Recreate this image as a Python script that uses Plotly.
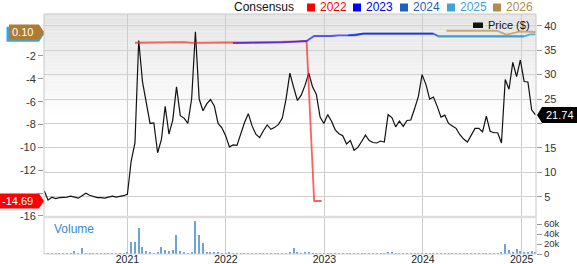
import pandas as pd
import plotly.graph_objects as go

# ---------------- data ----------------
start_date = "2020-02-28"   # biweekly sampling of price & volume
price = [6.2, 4.3, 4.9, 4.6, 4.8, 4.8, 4.9, 5.1, 4.9, 4.7,
         5.2, 5.7, 5.3, 5.0, 4.8, 4.8, 4.7, 4.9, 5.1, 4.9,
         5.0, 5.2, 5.5, 12.3, 16.0, 37.0, 28.5, 24.1, 20.0, 20.1,
         14.0, 16.7, 23.5, 17.8, 20.7, 27.5, 21.6, 21.1, 20.0, 25.0,
         38.8, 25.0, 22.6, 24.0, 24.9, 23.6, 20.0, 19.1, 17.5, 15.2,
         15.6, 15.5, 18.0, 20.2, 22.0, 19.5, 17.8, 17.1, 18.5, 19.7,
         18.8, 19.2, 19.8, 21.1, 25.1, 30.3, 27.4, 24.7, 25.8, 27.8,
         30.3, 27.5, 26.0, 21.3, 20.0, 21.8, 20.5, 18.7, 17.9, 17.5,
         15.8, 16.5, 14.5, 15.1, 16.3, 17.6, 16.5, 16.1, 16.0, 16.4,
         16.2, 21.8, 21.2, 19.3, 20.5, 19.4, 20.6, 20.7, 23.0, 25.5,
         30.0, 28.0, 25.0, 25.4, 23.5, 21.3, 21.7, 20.0, 19.5, 19.0,
         17.7, 16.8, 16.2, 17.5, 19.0, 19.0, 18.3, 21.5, 18.4, 18.1,
         18.1, 16.0, 29.0, 27.0, 32.5, 29.6, 33.0, 28.6, 28.5, 22.8,
         21.74]
volume_k = [1, 1, 1, 1, 1, 1, 1, 2, 6, 1,
            12, 2, 1, 1, 1, 1, 1, 1, 1, 1,
            1, 1, 3, 24, 24, 52, 14, 6, 4, 2,
            3, 14, 8, 6, 9, 39, 6, 3, 2, 3,
            67, 38, 22, 5, 4, 3, 3, 2, 2, 3,
            2, 2, 2, 1.5, 1.5, 1.5, 2, 1.5, 1.5, 1.5,
            1.5, 1.5, 1.5, 1.5, 2, 3, 13, 3, 2, 3,
            3, 2, 1.5, 1.5, 1.5, 1.5, 1.5, 1.5, 1.5, 1.5,
            1.5, 1.5, 1.5, 1.5, 1.5, 1.5, 1.5, 1.5, 1.5, 1.5,
            1.5, 5, 3, 1.5, 1.5, 1.5, 1.5, 1.5, 1.5, 2,
            1.5, 1.5, 1.5, 1.5, 1.5, 1.5, 1.5, 1.5, 1.5, 1.5,
            2, 2, 2, 1.5, 1.5, 1.5, 1.5, 1.5, 1.5, 1.5,
            2, 3, 21, 8, 4, 11, 6, 4, 3, 6,
            5]

eps_2022_dates = ["2021-01-29", "2021-03-31", "2021-05-31", "2021-07-30", "2021-08-31",
                  "2021-10-29", "2021-12-31", "2022-03-31", "2022-06-30", "2022-09-30",
                  "2022-10-27", "2022-11-24", "2022-12-22"]
eps_2022 = [-0.84, -0.84, -0.80, -0.78, -0.86, -0.82, -0.82, -0.82, -0.80, -0.72,
            -0.69, -14.69, -14.69]
eps_2023_dates = ["2022-01-27", "2022-04-28", "2022-07-28", "2022-10-27", "2022-11-24",
                  "2023-01-26", "2023-02-23", "2023-04-27", "2023-05-25", "2024-02-08"]
eps_2023 = [-0.87, -0.86, -0.80, -0.69, -0.25, -0.25, -0.19, -0.19, -0.05, -0.05]
eps_2024_dates = ["2023-03-30", "2023-05-25", "2024-02-08", "2024-02-29", "2025-01-09"]
eps_2024 = [-0.19, -0.05, -0.05, -0.28, -0.28]
eps_2025_dates = ["2024-02-22", "2025-01-09", "2025-02-01", "2025-02-21"]
eps_2025 = [-0.28, -0.28, -0.10, -0.10]
eps_2026_dates = ["2024-03-28", "2024-10-01", "2024-11-06", "2024-12-26", "2025-02-21"]
eps_2026 = [0.21, 0.21, -0.14, 0.16, 0.10]

year_ticks = ["2021-01-01", "2022-01-01", "2023-01-01", "2024-01-01", "2025-01-01"]
year_labels = ["2021", "2022", "2023", "2024", "2025"]
price_ticks = [5, 10, 15, 20, 25, 30, 35, 40]
price_labels = ["5", "10", "15", "20", "25", "30", "35", "40"]
eps_ticks = [-16, -14, -12, -10, -8, -6, -4, -2]
eps_labels = ["-16", "-14", "-12", "-10", "-8", "-6", "-4", "-2"]
vol_ticks = [0, 20000, 40000, 60000]
vol_labels = ["0", "20k", "40k", "60k"]

series_names = ["2022", "2023", "2024", "2025", "2026"]
series_colors = ["#ff0000", "#0000ff", "#1f5fbf", "#3fa3d6", "#b58a4a"]
line_colors = ["rgba(255,30,30,0.7)", "rgba(20,20,255,0.7)", "rgba(31,95,191,0.85)",
               "rgba(63,163,214,0.85)", "rgba(181,138,74,0.7)"]

# ---------------- layout geometry ----------------
W, H = 577, 264
L, R, T, B = 44, 41, 14, 10
PW, PH = W - L - R, H - T - B
VOL_TOP = 217

def pxx(x):
    return (x - L) / PW

def pxy(y):
    return (H - B - y) / PH

main_dom = [pxy(VOL_TOP), 1.0]
vol_dom = [0.0, pxy(VOL_TOP)]
price_range = [0.84, 42.42]
eps_range = [-16.09, 1.675]
vol_range = [0, 74000]

def to_paper(v, rng, dom):
    return dom[0] + (v - rng[0]) / (rng[1] - rng[0]) * (dom[1] - dom[0])

dates = pd.date_range(start_date, periods=len(price), freq="14D")

# labels hidden under the value badges in the reference
hidden_eps = round(eps_2022[-1] / 2) * 2
eps_text = ["" if t == hidden_eps else s for t, s in zip(eps_ticks, eps_labels)]
hidden_price = round(price[-1] / 5) * 5
price_text = ["" if t == hidden_price else s for t, s in zip(price_ticks, price_labels)]

fig = go.Figure()

eps_sets = [(eps_2022_dates, eps_2022), (eps_2023_dates, eps_2023), (eps_2024_dates, eps_2024),
            (eps_2025_dates, eps_2025), (eps_2026_dates, eps_2026)]
draw_order = [2, 3, 4, 0, 1]
for k in draw_order:
    d, v = eps_sets[k]
    fig.add_trace(go.Scatter(x=pd.to_datetime(d), y=v, mode="lines", yaxis="y2",
                             line=dict(color=line_colors[k], width=1.8), hoverinfo="skip",
                             showlegend=False))

fig.add_trace(go.Scatter(x=dates, y=price, mode="lines", yaxis="y",
                         line=dict(color="#111111", width=1.2), showlegend=False))
fig.add_trace(go.Bar(x=dates, y=[v * 1000 for v in volume_k], yaxis="y3",
                     marker=dict(color="#5b9bd5", line=dict(width=0)), opacity=0.9,
                     width=4 * 86400000, showlegend=False))

shapes = []
# gradient background of main panel
nb = 30
grad_h = 0.52 * (main_dom[1] - main_dom[0])
for i in range(nb):
    c = int(229 + (255 - 229) * i / (nb - 1))
    y1 = main_dom[1] - grad_h * i / nb
    y0 = main_dom[1] - grad_h * (i + 1) / nb
    shapes.append(dict(type="rect", xref="paper", yref="paper", x0=0, x1=1, y0=y0, y1=y1,
                       fillcolor=f"rgb({c},{c},{c})", line=dict(width=0), layer="below"))
# panel borders
shapes.append(dict(type="rect", xref="paper", yref="paper", x0=0, x1=1, y0=main_dom[0], y1=1,
                   line=dict(color="#c8c8c8", width=1), layer="above"))
shapes.append(dict(type="rect", xref="paper", yref="paper", x0=0, x1=1, y0=0, y1=vol_dom[1],
                   line=dict(color="#d0d0d0", width=1), layer="above"))
shapes.append(dict(type="line", xref="paper", yref="paper", x0=0, x1=1, y0=main_dom[0], y1=main_dom[0],
                   line=dict(color="#dddddd", width=2.5), layer="above"))

annotations = []
font_fam = "Liberation Sans, Arial, sans-serif"

# consensus legend at top
LEG_Y = 7.5
annotations.append(dict(text="Consensus", xref="paper", yref="paper", x=pxx(232), y=pxy(LEG_Y),
                        xanchor="left", yanchor="middle", showarrow=False,
                        font=dict(family=font_fam, size=12, color="#111")))
leg_sq_x = [307, 353, 400, 447, 493]
for k, name in enumerate(series_names):
    sx = leg_sq_x[k]
    shapes.append(dict(type="rect", xref="paper", yref="paper", x0=pxx(sx), x1=pxx(sx + 8),
                       y0=pxy(LEG_Y + 4), y1=pxy(LEG_Y - 4), fillcolor=series_colors[k],
                       line=dict(width=0)))
    annotations.append(dict(text=name, xref="paper", yref="paper", x=pxx(sx + 11), y=pxy(LEG_Y),
                            xanchor="left", yanchor="middle", showarrow=False,
                            font=dict(family=font_fam, size=12, color=series_colors[k])))

# price legend
shapes.append(dict(type="rect", xref="paper", yref="paper", x0=pxx(473), x1=pxx(483),
                   y0=pxy(28), y1=pxy(22.5), fillcolor="#111", line=dict(width=0)))
annotations.append(dict(text="Price ($)", xref="paper", yref="paper", x=pxx(486), y=pxy(25.3),
                        xanchor="left", yanchor="middle", showarrow=False,
                        font=dict(family=font_fam, size=11, color="#111")))
# volume label
annotations.append(dict(text="Volume", xref="paper", yref="paper", x=pxx(52), y=pxy(229),
                        xanchor="left", yanchor="middle", showarrow=False,
                        font=dict(family=font_fam, size=12, color="#3a88c8")))

# badges
def left_badge(val, text, color, w):
    yp = to_paper(val, eps_range, main_dom)
    h, a = 7.5, 5
    path = f"M {-w},{-h} L {-a},{-h} L 0,0 L {-a},{h} L {-w},{h} Z"
    shapes.append(dict(type="path", xref="paper", yref="paper", xsizemode="pixel", ysizemode="pixel",
                       xanchor=0, yanchor=yp, path=path, fillcolor=color, line=dict(width=0),
                       layer="above"))
    if text:
        annotations.append(dict(text=text, xref="paper", yref="paper", x=0, y=yp, xshift=-9,
                                xanchor="right", yanchor="middle", showarrow=False,
                                font=dict(family=font_fam, size=11, color="white")))

left_badge(eps_2025[-1], None, series_colors[3], 37.5)   # hidden behind the 2026 badge
left_badge(eps_2026[-1], f"{eps_2026[-1]:.2f}", "#b07a30", 35)
left_badge(eps_2022[-1], f"{eps_2022[-1]:.2f}", series_colors[0], 44)

yp = to_paper(price[-1], price_range, main_dom)
h, a, w = 8, 5, 42
shapes.append(dict(type="path", xref="paper", yref="paper", xsizemode="pixel", ysizemode="pixel",
                   xanchor=1, yanchor=yp, path=f"M 1,0 L {a + 1},{-h} L {w},{-h} L {w},{h} L {a + 1},{h} Z",
                   fillcolor="#000000", line=dict(width=0), layer="above"))
annotations.append(dict(text=f"{price[-1]:.2f}", xref="paper", yref="paper", x=1, y=yp, xshift=8,
                        xanchor="left", yanchor="middle", showarrow=False,
                        font=dict(family=font_fam, size=11, color="white")))

tickfont = dict(family=font_fam, size=11, color="#333")
fig.update_layout(
    width=W, height=H, margin=dict(l=L, r=R, t=T, b=B, autoexpand=False),
    paper_bgcolor="white", plot_bgcolor="rgba(0,0,0,0)",
    showlegend=False, bargap=0,
    xaxis=dict(type="date", range=["2020-02-27", "2025-02-23"], anchor="y3", automargin=False,
               tickvals=pd.to_datetime(year_ticks), ticktext=year_labels,
               showgrid=True, gridcolor="#cccccc", gridwidth=1, zeroline=False,
               ticks="", ticklen=0, showline=False, ticklabelstandoff=-3,
               tickfont=dict(family=font_fam, size=10.5, color="#222")),
    yaxis=dict(domain=main_dom, range=price_range, side="right", anchor="x", automargin=False,
               tickvals=price_ticks, ticktext=price_text, showgrid=True, gridcolor="#d0d0d0",
               zeroline=False, ticks="outside", ticklen=5, tickcolor="#999", tickfont=tickfont),
    yaxis2=dict(overlaying="y", side="left", range=eps_range, anchor="x", automargin=False,
                tickvals=eps_ticks, ticktext=eps_text, showgrid=False, zeroline=False,
                ticks="outside", ticklen=5, tickcolor="#999", tickfont=tickfont),
    yaxis3=dict(domain=vol_dom, range=vol_range, side="right", anchor="x", automargin=False,
                tickvals=vol_ticks, ticktext=vol_labels, showgrid=False, zeroline=False,
                ticks="outside", ticklen=5, tickcolor="#999",
                tickfont=dict(family=font_fam, size=9.5, color="#333")),
    shapes=shapes, annotations=annotations,
)

fig.write_html("out.html")
